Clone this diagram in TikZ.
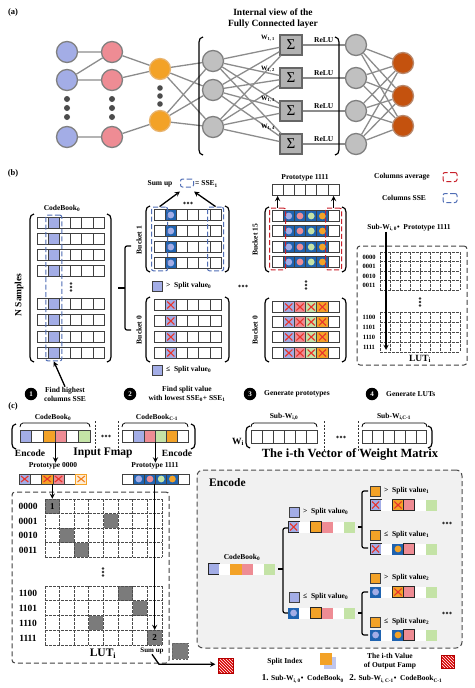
\documentclass[tikz,border=0pt]{standalone}
\usepackage{fontspec}
\setmainfont{Liberation Serif}
\usepackage{tikz}
\usetikzlibrary{arrows,fit,patterns}

\definecolor{lav}{HTML}{A3ADE6}
\definecolor{pnk}{HTML}{EE8C94}
\definecolor{org}{HTML}{F3A227}
\definecolor{grn}{HTML}{C4E3A6}
\definecolor{blu}{HTML}{1F63B0}
\definecolor{brn}{HTML}{C4520E}
\definecolor{gry}{HTML}{C0C0C0}
\definecolor{wht}{HTML}{FFFFFF}
\definecolor{edgegray}{HTML}{8C8C8C}
\definecolor{lutgray}{HTML}{7B7B7B}
\definecolor{sseblue}{HTML}{4F6DB5}
\definecolor{avgred}{HTML}{C8202A}
\definecolor{xred}{HTML}{E8332B}
\definecolor{boxbg}{HTML}{F1F1F1}

\newcommand{\xcross}[1]{\draw[#1, line width=1.1pt]
  ([shift={(2pt,2pt)}]path picture bounding box.south west) -- ([shift={(-2pt,-2pt)}]path picture bounding box.north east)
  ([shift={(2pt,-2pt)}]path picture bounding box.north west) -- ([shift={(-2pt,2pt)}]path picture bounding box.south east);}

\tikzstyle{neuron} = [circle, minimum size=21pt, inner sep=0pt, draw=black!50, line width=1.3pt]
\tikzstyle{sumbox} = [rectangle, minimum width=22pt, minimum height=20pt, inner sep=0pt,
fill=black!30, draw=black!60, line width=1.3pt, font=\fontsize{15}{15}\selectfont]
\tikzstyle{link} = [draw=edgegray, line width=1.3pt]
\tikzstyle{brk} = [line width=1.2pt]
\tikzstyle{cell} = [rectangle, draw=black!75, line width=0.8pt, inner sep=0pt]
\tikzstyle{mk-n} = []
\tikzstyle{mk-x} = [path picture={\xcross{xred}}]
\tikzstyle{mk-b} = [draw=black!85, line width=1pt]
\tikzstyle{mk-xb} = [mk-x, mk-b]
\tikzstyle{mk-xo} = [draw=org, path picture={\xcross{org!80!red}}]
\tikzstyle{mk-dl} = [fill=blu, path picture={\fill[lav] (path picture bounding box.center) circle (3.4pt);}]
\tikzstyle{mk-dp} = [fill=blu, path picture={\fill[pnk] (path picture bounding box.center) circle (3.4pt);}]
\tikzstyle{mk-dg} = [fill=blu, path picture={\fill[grn] (path picture bounding box.center) circle (3.4pt);}]
\tikzstyle{mk-do} = [fill=blu, path picture={\fill[org] (path picture bounding box.center) circle (3.4pt);}]
\tikzstyle{ssebox} = [draw=sseblue, dash pattern=on 5pt off 2.5pt, rounded corners=2pt, line width=1pt, inner sep=2pt]
\tikzstyle{avgbox} = [ssebox, draw=avgred]
\tikzstyle{lutframe} = [draw=black!75, dash pattern=on 5pt off 3pt, rounded corners=3pt, line width=1pt, inner sep=0pt]
\tikzstyle{gridln} = [draw=black!70, dash pattern=on 2.5pt off 1.5pt, line width=0.8pt]
\tikzstyle{sepln} = [draw=black!80, dash pattern=on 2pt off 1.5pt, line width=0.8pt]
\tikzstyle{lutcell} = [rectangle, fill=lutgray, inner sep=0pt, font=\fontsize{9}{9}\selectfont\bfseries]
\tikzstyle{hatch} = [rectangle, inner sep=0pt, draw=red!70!black, preaction={fill=red!85!black},
pattern=north west lines, pattern color=white]
\tikzstyle{encframe} = [draw=black!70, fill=boxbg, dash pattern=on 5pt off 3pt, rounded corners=6pt, line width=1pt, inner sep=0pt]
\tikzstyle{arrow} = [line width=1.3pt,->,>=stealth]
\tikzstyle{stepnum} = [circle, fill=black, text=white, minimum size=12.5pt, inner sep=0pt, font=\fontsize{7}{7}\selectfont\bfseries]
\tikzstyle{plbl} = [inner sep=0pt, font=\fontsize{8.5}{9}\selectfont\bfseries]
\tikzstyle{txt} = [inner sep=0pt, font=\fontsize{7.5}{9}\selectfont\bfseries]
\tikzstyle{tinytxt} = [inner sep=0pt, font=\fontsize{6.5}{7}\selectfont\bfseries]
\tikzstyle{midtxt} = [inner sep=0pt, font=\fontsize{9.5}{11}\selectfont\bfseries]
\tikzstyle{bigtxt} = [inner sep=0pt, font=\fontsize{11.5}{13}\selectfont\bfseries]

% row of cells: [opts]{name}{x left}{y}{width}{height}{fill/marker,...}
\newcommand{\cellrow}[7][]{\foreach \f/\m [count=\k from 0] in {#7}{%
  \edef\tmprow{\noexpand\node[cell,#1,minimum width=#5,minimum height=#6,fill=\f,mk-\m]
    (#2-\k) at ({#3+(\k+0.5)*#5},#4) {};}\tmprow}}
\newcommand{\lbrk}[3]{\draw[brk] (#1+4,#2) to[out=180,in=90] (#1,#2+5) -- (#1,#3-5) to[out=-90,in=180] (#1+4,#3);}
\newcommand{\rbrk}[3]{\draw[brk] (#1-4,#2) to[out=0,in=90] (#1,#2+5) -- (#1,#3-5) to[out=-90,in=0] (#1-4,#3);}
\newcommand{\obrk}[3]{\draw[line width=0.8pt] (#1,#3+4) to[out=90,in=180] (#1+3,#3) -- (#2-3,#3) to[out=0,in=90] (#2,#3+4);}
\newcommand{\hdotsat}[2]{\foreach \d in {-3.5,0,3.5} {\fill[black!80] (#1+\d,#2) circle (1.3pt);}}
\newcommand{\vdotsat}[2]{\foreach \d in {-3.5,0,3.5} {\fill[black!80] (#1,#2+\d) circle (1.3pt);}}

\begin{document}
\begin{tikzpicture}[x=1pt, y=-1pt]
\useasboundingbox (0,0) rectangle (474,688);

%% (a)
\node[plbl] (lbla) at (13,12) {(a)};
\node[midtxt, align=center] (fctitle) at (273,19) {Internal view of the\\Fully Connected layer};

\foreach \y [count=\i] in {52,80,137} {\node[neuron, fill=lav] (in\i) at (67,\y) {};}
\foreach \y [count=\i] in {52,80,137} {\node[neuron, fill=pnk] (hA\i) at (112,\y) {};}
\foreach \y [count=\i] in {69,121} {\node[neuron, fill=org, draw=org!60!brown!70] (hB\i) at (160,\y) {};}
\foreach \y [count=\i] in {61,90,127} {\node[neuron, fill=gry] (fc\i) at (213,\y) {};}
\foreach \y [count=\i] in {45,78,111,144} {\node[sumbox] (sum\i) at (291,\y) {Σ};}
\foreach \y [count=\i] in {45,78,111,144} {\node[neuron, fill=gry] (act\i) at (356,\y) {};}
\foreach \y [count=\i] in {63,96,126} {\node[neuron, fill=brn, draw=brn!70!black!60] (out\i) at (403,\y) {};}

\foreach \y in {99,108,117} {\fill[black!70] (67,\y) circle (3pt); \fill[black!70] (112,\y) circle (3pt);}
\foreach \y in {88,96,104} {\fill[black!70] (160,\y) circle (2.8pt);}

\draw[link] (in1) -- (hA1) (in2) -- (hA1) (in2) -- (hA2) (in3) -- (hA3);
\draw[link] (hA1) -- (hB1) (hA2) -- (hB1) (hA3) -- (hB2);
\foreach \i in {1,2} {\foreach \j in {1,2,3} {\draw[link] (hB\i) -- (fc\j);}}
\foreach \i in {1,2,3} {\foreach \j in {1,...,4} {\draw[link] (fc\i) -- (sum\j);}}
\foreach \j in {1,...,4} {\draw[link] (sum\j) -- node[txt, above=1.5pt] (relu\j) {ReLU} (act\j);}
\foreach \i in {1,...,4} {\foreach \j in {1,2,3} {\draw[link] (act\i) -- (out\j);}}

\foreach \y [count=\i] in {38,69,99,127} {\node[tinytxt] (w\i) at (268,\y) {W\textsubscript{1, \i}};}
\lbrk{199}{37}{155}
\rbrk{339}{37}{155}

%% (b)
\node[plbl] (lblb) at (13,173) {(b)};
\node[txt] (cb0lbl) at (62,208) {CodeBook\textsubscript{0}};
\foreach \y [count=\r] in {223,239,255,271,304,320,337,353}
  {\cellrow{cb\r}{37}{\y}{11.2}{11}{wht/n,lav/n,wht/n,wht/n,wht/n,wht/n}}
\node[ssebox, fit=(cb1-1)(cb8-1)] (ssecol) {};
\lbrk{30}{214}{362}
\rbrk{111}{214}{362}
\node[midtxt, rotate=90] (nsamp) at (19,295) {N Samples};
\vdotsat{71}{287}

\foreach \y [count=\r] in {215,231,247,263}
  {\cellrow{bo\r}{154}{\y}{11.2}{11}{wht/n,lav/dl,wht/n,wht/n,wht/n,wht/n}}
\node[ssebox, fit=(bo1-0)(bo4-0)] (bosse0) {};
\node[ssebox, fit=(bo1-5)(bo4-5)] (bosse5) {};
\lbrk{146}{206}{272}
\rbrk{229}{206}{272}
\node[txt, rotate=90] (bk1) at (139,240) {Bucket 1};
\node[txt] (sumup1) at (160,184) {Sum up};
\node[ssebox, minimum width=13pt, minimum height=8pt, inner sep=0pt] (sseicon) at (187,183) {};
\node[txt, anchor=west] (sse1) at (195,184) {= SSE\textsubscript{1}};
\draw[arrow] (bosse0.north) -- ([yshift=-4pt]sseicon.south west);
\draw[arrow] (bosse5.north) -- ([yshift=-4pt]sseicon.south east);
\hdotsat{188}{203}
\node[cell, fill=lav, minimum size=10pt] (gtsq) at (157,286) {};
\node[txt, anchor=west] (gttxt) at (166,286) {>\ \ Split value\textsubscript{0}};

\foreach \y [count=\r] in {305,321,337,353}
  {\cellrow{bz\r}{154}{\y}{11.2}{11}{wht/n,lav/x,wht/n,wht/n,wht/n,wht/n}}
\lbrk{146}{297}{362}
\rbrk{229}{297}{362}
\node[txt, rotate=90] (bk0) at (139,330) {Bucket 0};
\node[cell, fill=lav, minimum size=10pt] (lesq) at (157,370) {};
\node[txt, anchor=west] (letxt) at (166,370) {≤\ \ Split value\textsubscript{0}};
\draw[brk, rounded corners=2pt] (131,246) -- (125,246) -- (125,330) -- (131,330);
\draw[brk] (125,288) -- (118,288);
\hdotsat{243}{286}

\node[txt] (pt15lbl) at (305,178) {Prototype 1111};
\cellrow{pr}{272}{190}{11.2}{11}{wht/n,wht/n,wht/n,wht/n,wht/n,wht/n}
\foreach \y [count=\r] in {216,231,247,262}
  {\cellrow{bf\r}{272}{\y}{11.2}{11}{wht/n,lav/dl,pnk/dp,grn/dg,org/do,wht/n}}
\node[avgbox, fit=(bf1-0)(bf4-0)] (avg0) {};
\node[avgbox, fit=(bf1-5)(bf4-5)] (avg5) {};
\draw[arrow] (avg0.north) -- (pr-0.south);
\draw[arrow] (avg5.north) -- (pr-5.south);
\lbrk{265}{207}{272}
\rbrk{346}{207}{272}
\node[txt, rotate=90] (bk15) at (255,240) {Bucket 15};
\vdotsat{306}{285}
\foreach \y [count=\r] in {307,322,337,353}
  {\cellrow{bq\r}{272}{\y}{11.2}{11}{wht/n,lav/x,pnk/x,grn/x,org/x,wht/n}}
\lbrk{265}{298}{362}
\rbrk{346}{298}{362}
\node[txt, rotate=90] (bk0b) at (255,330) {Bucket 0};

\node[txt] (avglbl) at (402,177) {Columns average};
\node[avgbox, minimum width=14pt, minimum height=9pt, inner sep=0pt] (avgicon) at (450,177) {};
\node[txt] (sselbl) at (404,198) {Columns SSE};
\node[ssebox, minimum width=14pt, minimum height=9pt, inner sep=0pt] (sseicon2) at (450,198) {};

\node[txt] (subwp) at (409,228) {Sub-W\textsubscript{i, 0}\textbullet\ \ Prototype 1111};
\node[lutframe, minimum width=110pt, minimum height=119pt] (lutb) at (412,305.5) {};
\foreach \k in {0,...,4} {\draw[gridln] (380,252+\k*9.5) -- (460,252+\k*9.5);
  \draw[gridln] (380,312+\k*10) -- (460,312+\k*10);}
\foreach \k in {0,...,8} {\draw[gridln] (380+\k*10,252) -- (380+\k*10,290);
  \draw[gridln] (380+\k*10,312) -- (380+\k*10,352);}
\foreach \t/\y in {0000/257,0001/266.5,0010/276,0011/285.5,1100/317,1101/327,1110/337,1111/347}
  {\node[tinytxt] (lb\t) at (369,\y) {\t};}
\vdotsat{420}{302}
\coordinate (lutbtip) at (386,350);
\draw[arrow] (subwp.south -| lutbtip) -- (lutbtip);
\node[midtxt] (lutblbl) at (420,359) {LUT\textsubscript{i}};

\node[stepnum] (s1) at (31,394) {1};
\node[txt, align=center] (find1) at (65,394) {Find highest\\columns SSE};
\draw[arrow] (find1.north) -- (ssecol.south);
\node[stepnum] (s2) at (130,394) {2};
\node[txt, align=center] (find2) at (187,394) {Find split value\\with lowest SSE\textsubscript{0}+ SSE\textsubscript{1}};
\node[stepnum] (s3) at (250,394) {3};
\node[txt, anchor=west] (gen3) at (264,394) {Generate prototypes};
\node[stepnum] (s4) at (372,394) {4};
\node[txt, anchor=west] (gen4) at (386,394) {Generate LUTs};

%% (c)
\node[plbl] (lblc) at (13,406) {(c)};
\node[txt] (cbl0) at (53,417) {CodeBook\textsubscript{0}};
\node[txt] (cbl1) at (157,417) {CodeBook\textsubscript{C-1}};
\obrk{20}{90}{423}
\obrk{122}{188}{423}
\cellrow{fa}{20}{436}{11.7}{12}{lav/n,wht/n,org/n,pnk/n,wht/n,grn/n}
\cellrow{fb}{122}{436}{11}{12}{wht/n,lav/n,pnk/n,grn/n,org/n,wht/n}
\begin{scope}[line width=1.5pt]
\lbrk{12}{424}{449}
\rbrk{195}{424}{449}
\end{scope}
\draw[sepln] (95,421) -- (95,451);
\draw[sepln] (118,421) -- (118,451);
\hdotsat{106}{436}
\node[midtxt] (enc0) at (30,453) {Encode};
\node[bigtxt] (infmap) at (103,453) {Input Fmap};
\node[midtxt] (enc1) at (177,453) {Encode};
\node[txt] (p0lbl) at (53,466) {Prototype 0000};
\node[txt] (p15lbl) at (155,466) {Prototype 1111};
\draw[arrow] (fa-2.south east) -- (fa-2.south east |- p0lbl.north);
\draw[arrow] (fb-2.south east) -- (fb-2.south east |- p15lbl.north);
\cellrow{pa}{19}{479}{11.3}{10}{lav/x,wht/n,org/x,pnk/x,wht/n,org!20/xo}
\cellrow{pb}{122}{479}{11.2}{10}{wht/n,lav/dl,pnk/dp,grn/dg,org/do,wht/n}

\node[lutframe, minimum width=157pt, minimum height=171pt] (lutc) at (90.5,577.5) {};
\node[lutcell, minimum width=14.6pt, minimum height=14.5pt] (lut1) at (52.3,506.25) {1};
\foreach \r/\c in {1/4,2/1,3/2}
  {\node[lutcell, minimum width=14.6pt, minimum height=14.5pt] (ua\r\c) at ({45+(\c+0.5)*14.625},{499+(\r+0.5)*14.5}) {};}
\foreach \r/\c in {0/5,1/6,2/3}
  {\node[lutcell, minimum width=14.6pt, minimum height=14.75pt] (ub\r\c) at ({45+(\c+0.5)*14.625},{586+(\r+0.5)*14.75}) {};}
\node[lutcell, minimum width=14.6pt, minimum height=14.75pt] (lut2) at (154.7,637.6) {2};
\foreach \k in {0,...,4} {\draw[gridln] (45,499+\k*14.5) -- (162,499+\k*14.5);
  \draw[gridln] (45,586+\k*14.75) -- (162,586+\k*14.75);}
\foreach \k in {0,...,8} {\draw[gridln] (45+\k*14.625,499) -- (45+\k*14.625,557);
  \draw[gridln] (45+\k*14.625,586) -- (45+\k*14.625,645);}
\foreach \t/\y in {0000/506,0001/521,0010/535,0011/550,1100/593,1101/608,1110/623,1111/638}
  {\node[midtxt] (lc\t) at (28,\y) {\t};}
\vdotsat{103}{572}
\draw[arrow] (lut1.north |- pa-0.south) -- (lut1.north);
\draw[arrow] (lut2.north |- pb-0.south) -- (lut2.north);
\node[bigtxt] (lutclbl) at (103,654) {LUT\textsubscript{i}};
\node[txt, font=\fontsize{7}{7}\selectfont\bfseries] (sumup2) at (152,651) {Sum up};
\node[lutcell, draw=black!60, dash pattern=on 2pt off 1.5pt, minimum size=16pt] (sumcell) at (180,651) {};
\node[hatch, minimum size=15pt] (outval) at (226,666) {};
\draw[arrow, shorten >=3pt] (sumup2.south) -- ++(7,10) coordinate (sumbend) -- (sumbend -| outval.west);

% encode box
\node[encframe, minimum width=265pt, minimum height=178pt] (encbox) at (329.5,559) {};
\node[bigtxt, anchor=west] (enctitle) at (209,483) {Encode};
\node[txt] (cbe) at (242,557) {CodeBook\textsubscript{0}};
\cellrow[draw=none]{ea}{208}{569}{11.2}{11}{lav/b,wht/n,org/n,pnk/n,wht/n,grn/n}
\draw[brk, rounded corners=2pt] (288,528) -- (283,528) -- (283,613) -- (288,613);
\draw[brk] (283,569) -- (278,569);
\node[cell, fill=lav, minimum size=10pt] (sq0a) at (294,512) {};
\node[txt, anchor=west] (sv0a) at (303,512) {>\ \ Split value\textsubscript{0}};
\cellrow[draw=none]{eb}{288}{527}{11.2}{11}{lav/xb,wht/n,org/b,pnk/n,wht/n,grn/n}
\node[cell, fill=lav, minimum size=10pt] (sq0b) at (294,597) {};
\node[txt, anchor=west] (sv0b) at (303,597) {≤\ \ Split value\textsubscript{0}};
\cellrow[draw=none]{ec}{288}{613}{11.2}{11}{lav/dl,wht/n,org/b,pnk/n,wht/n,grn/n}

\draw[brk, rounded corners=2pt] (368,491) -- (362,491) -- (362,548) -- (368,548);
\draw[brk] (362,527) -- (358,527);
\draw[brk, rounded corners=2pt] (368,592) -- (362,592) -- (362,635) -- (368,635);
\draw[brk] (362,613) -- (358,613);
\foreach \y/\s/\r [count=\i] in {491/>/1,535/≤/1,578/>/2,622/≤/2} {
  \node[cell, fill=org, minimum size=10pt] (sq\i) at (375,\y) {};
  \node[txt, anchor=west] (sv\i) at (384,\y) {\s\ \ Split value\textsubscript{\r}};}
\cellrow[draw=none]{ed}{370}{505}{11.2}{11}{lav/xb,wht/n,org/xb,pnk/b,wht/n,grn/n}
\cellrow[draw=none]{ee}{370}{549}{11.2}{11}{lav/xb,wht/n,org/do,pnk/b,wht/n,grn/n}
\cellrow[draw=none]{ef}{370}{592}{11.2}{11}{lav/dl,wht/n,org/xb,pnk/b,wht/n,grn/n}
\cellrow[draw=none]{eg}{370}{635}{11.2}{11}{lav/dl,wht/n,org/do,pnk/b,wht/n,grn/n}
\hdotsat{447}{523}
\hdotsat{447}{613}

\node[txt] (splitidx) at (285,662) {Split Index};
\node[cell, fill=lav!70, draw=none, minimum size=12pt] (idxshadow) at (330,663) {};
\node[cell, fill=org, draw=none, minimum size=12pt] (idxsq) at (326,659) {};
\node[txt, align=center] (outlbl) at (390,661) {The i-th Value\\of Output Famp};
\node[hatch, minimum size=13pt] (outicon) at (448,662) {};
\node[txt] (formula) at (352,679) {{\fontsize{9}{9}\selectfont 1.} Sub-W\textsubscript{i, 0}\textbullet\ \ CodeBook\textsubscript{0}\ \ \ {\fontsize{9}{9}\selectfont 2.} Sub-W\textsubscript{i, C-1}\textbullet\ \ CodeBook\textsubscript{C-1}};

% weight vector
\node[midtxt] (wi) at (238,442) {W\textsubscript{i}};
\lbrk{246}{426}{448}
\rbrk{432}{426}{448}
\cellrow{wa}{251}{437}{11}{13}{wht/n,wht/n,wht/n,wht/n,wht/n,wht/n}
\cellrow{wb}{362}{437}{10.8}{13}{wht/n,wht/n,wht/n,wht/n,wht/n,wht/n}
\draw[sepln] (324,421) -- (324,451);
\draw[sepln] (358,421) -- (358,451);
\hdotsat{341}{437}
\obrk{251}{317}{423}
\obrk{362}{427}{423}
\node[txt] (subw0) at (284,417) {Sub-W\textsubscript{i,0}};
\node[txt] (subw1) at (394,417) {Sub-W\textsubscript{i,C-1}};
\node[bigtxt, font=\fontsize{12.5}{13}\selectfont\bfseries] (wvec) at (350,454) {The i-th Vector of Weight Matrix};

\end{tikzpicture}
\end{document}
